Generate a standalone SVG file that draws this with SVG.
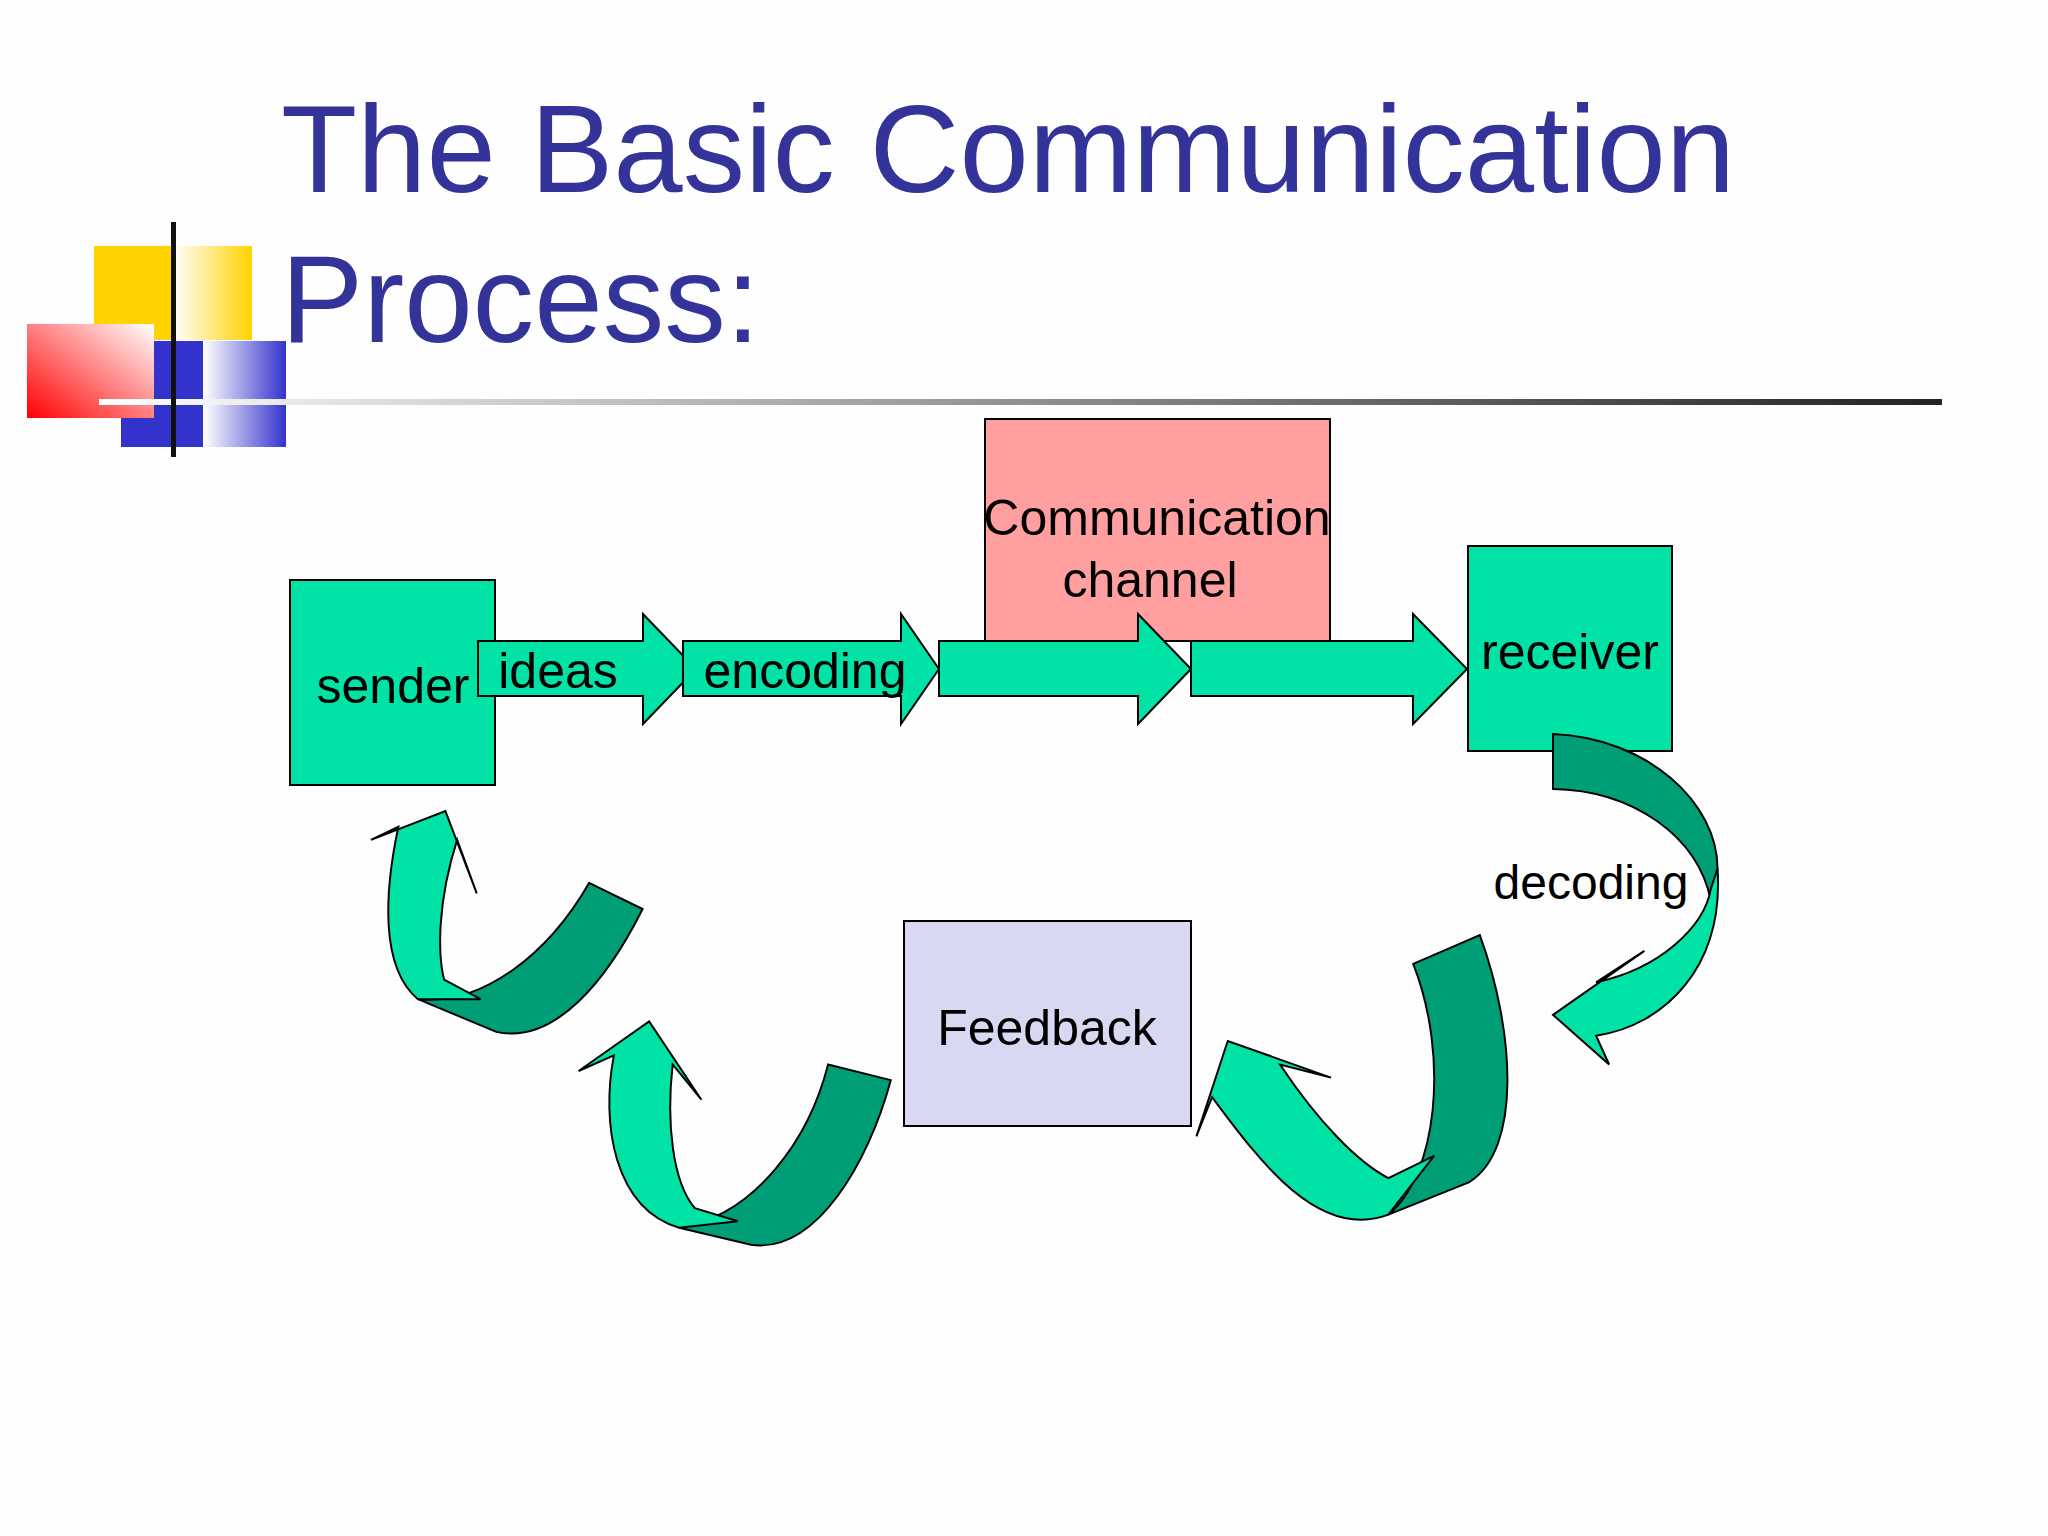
<svg xmlns="http://www.w3.org/2000/svg" width="2048" height="1536" viewBox="0 0 2048 1536">
<defs>
<style>
.t{font-family:"Liberation Sans",Arial,sans-serif;fill:#000;text-anchor:middle}
.g{fill:#00e2a6;stroke:#000;stroke-width:2}
.d{fill:#009e76;stroke:#000;stroke-width:1.5}
.gs{fill:#00e2a6;stroke:#000;stroke-width:1.5}
</style>
<linearGradient id="ln" x1="0" x2="1" y1="0" y2="0"><stop offset="0" stop-color="#fff"/><stop offset="1" stop-color="#222"/></linearGradient>
<linearGradient id="yl" x1="0" x2="1"><stop offset="0.5" stop-color="#ffd200"/><stop offset="0.5" stop-color="#fff"/><stop offset="1" stop-color="#ffd200"/></linearGradient>
<linearGradient id="rd" x1="0" y1="1" x2="1" y2="0"><stop offset="0" stop-color="#ff0000"/><stop offset="1" stop-color="#fff"/></linearGradient>
<linearGradient id="bl" x1="0" x2="1"><stop offset="0.5" stop-color="#3333cc"/><stop offset="0.5" stop-color="#fff"/><stop offset="1" stop-color="#3333cc"/></linearGradient>
</defs>
<rect width="2048" height="1536" fill="#fefefe"/>
<g id="decor">
<rect x="94" y="246" width="158" height="94" fill="url(#yl)"/>
<rect x="121" y="341" width="165" height="106" fill="url(#bl)"/>
<rect x="27" y="324" width="127" height="94" fill="url(#rd)"/>
<rect x="99" y="399" width="1843" height="6" fill="url(#ln)"/>
<rect x="171" y="222" width="5" height="235" fill="#111"/>
</g>
<g id="title" font-family="'Liberation Sans',Arial,sans-serif" fill="#333399" font-size="125">
<text x="281" y="192" textLength="1454" lengthAdjust="spacingAndGlyphs">The Basic Communication</text>
<text x="281" y="342" textLength="479" lengthAdjust="spacingAndGlyphs">Process:</text>
</g>
<g id="channel"><rect x="985" y="419" width="345" height="222" fill="#ff9f9f" stroke="#000" stroke-width="2"/>
<text class="t" x="1157" y="535" font-size="50">Communication</text>
<text class="t" x="1150" y="597" font-size="50">channel</text></g>
<g id="sender"><rect class="g" x="290" y="580" width="205" height="205"/><text class="t" x="393" y="703" font-size="50">sender</text></g>
<g id="receiver"><rect class="g" x="1468" y="546" width="204" height="205"/><text class="t" x="1570" y="669" font-size="50">receiver</text></g>
<g id="feedback"><rect x="904" y="921" width="287" height="205" fill="#d8d8f2" stroke="#000" stroke-width="2"/><text class="t" x="1047" y="1045" font-size="50">Feedback</text></g>
<g id="connectors">
<path class="g" d="M478,641 H643 V614 L696,669 L643,724 V696 H478 Z"/>
<path class="g" d="M683,641 H901 V614 L939,669 L901,724 V696 H683 Z"/>
<path class="g" d="M939,641 H1138 V614 L1191,669 L1138,724 V696 H939 Z"/>
<path class="g" d="M1191,641 H1413 V614 L1467,669 L1413,724 V696 H1191 Z"/>
<text class="t" x="558" y="688" font-size="50">ideas</text>
<text class="t" x="805" y="688" font-size="50">encoding</text>
<text class="t" x="1591" y="899" font-size="48">decoding</text>
<g transform="scale(1.30612)">
<path class="d" d="M1189,562 C1262,565 1315,615 1315,665 L1310,690 C1300,640 1250,605 1189,604 Z"/>
<path class="gs" d="M1315,665 C1320,740 1275,785 1222,793 L1232,815 L1189,777 L1259,728 L1222,752 C1270,742 1305,710 1310,680 Z"/>
<path class="d" d="M1082,738 L1133,716 C1160,790 1165,880 1125,905 L1063,930 C1100,900 1110,810 1082,738 Z"/>
<path class="gs" d="M1098,885 L1063,930 C1010,950 965,890 928,840 L916,870 L940,797 L1019,825 L980,815 C1010,860 1040,890 1063,902 Z"/>
<path class="d" d="M634,815 L682,827 C665,890 625,960 575,953 L520,940 C580,930 620,870 634,815 Z"/>
<path class="gs" d="M565,935 L520,940 C470,925 460,860 470,808 L443,820 L497,782 L537,842 L515,815 C510,860 515,905 532,925 Z"/>
<path class="d" d="M451,676 L492,696 C465,750 425,800 380,790 L320,765 C370,770 420,730 451,676 Z"/>
<path class="gs" d="M368,765 L320,765 C290,740 295,680 305,633 L284,643 L341,621 L365,684 L350,643 C335,690 335,730 340,750 Z"/>
</g>
</g>
</svg>
